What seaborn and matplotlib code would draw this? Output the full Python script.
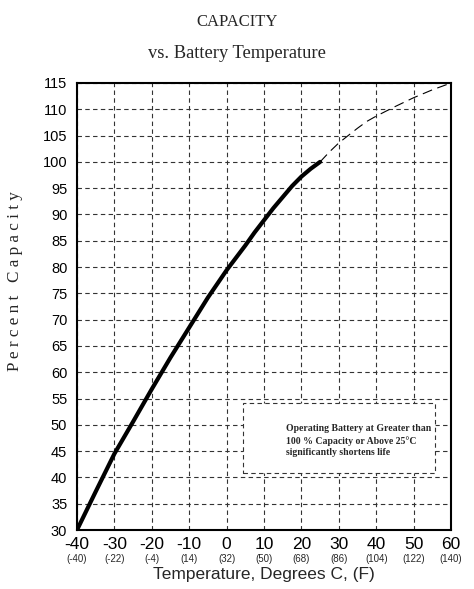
import matplotlib
matplotlib.use("Agg")
import matplotlib.pyplot as plt
import seaborn as sns
import pandas as pd
from matplotlib.patches import Rectangle

# ---- data ----
temp_solid = [-40, -35, -30, -25, -20, -15, -10, -5, 0, 5, 7.5, 10, 12.5, 15, 17.5, 20, 22.5, 25]
cap_solid = [30, 37.3, 44.5, 50.6, 56.8, 62.8, 68.5, 74.2, 79.4, 84.1, 86.6, 88.9, 91.2, 93.3, 95.4, 97.2, 98.7, 100]
temp_dashed = [25, 27.5, 30, 32.5, 35, 37.5, 40, 42.5, 45, 50, 55, 60]
cap_dashed = [100, 101.9, 103.6, 105.0, 106.4, 107.7, 108.7, 109.6, 110.5, 112.2, 113.7, 115]
x_ticks_c = [-40, -30, -20, -10, 0, 10, 20, 30, 40, 50, 60]
x_ticks_f = ["(-40)", "(-22)", "(-4)", "(14)", "(32)", "(50)", "(68)", "(86)", "(104)", "(122)", "(140)"]
y_ticks = [30, 35, 40, 45, 50, 55, 60, 65, 70, 75, 80, 85, 90, 95, 100, 105, 110, 115]
title1 = "CAPACITY"
title2 = "vs. Battery Temperature"
note_text = "Operating Battery at Greater than\n100 % Capacity or Above 25°C\nsignificantly shortens life"

sns.set_theme(style="white")
plt.rcParams['font.family'] = ['Liberation Sans', 'DejaVu Sans']

fig = plt.figure(figsize=(4.74, 5.89), dpi=100)
ax = fig.add_axes([77/474, 1-530/589, (451-77)/474, (530-83)/589])

df_s = pd.DataFrame({"t": temp_solid, "c": cap_solid})
df_d = pd.DataFrame({"t": temp_dashed, "c": cap_dashed})
sns.lineplot(data=df_s, x="t", y="c", ax=ax, color="black", linewidth=3.0, zorder=5,
             solid_joinstyle="round", solid_capstyle="round")
sns.lineplot(data=df_d, x="t", y="c", ax=ax, color="black", linewidth=0.8,
             linestyle=(0, (9, 5)), zorder=5)

ax.set_xlim(-40, 60)
ax.set_ylim(30, 115)
ax.set_xticks(x_ticks_c)
ax.set_yticks(y_ticks)
ax.set_xticklabels([str(v) for v in x_ticks_c], fontsize=12.5)
ax.set_yticklabels([str(v) for v in y_ticks], fontsize=10.5)
ax.tick_params(axis="both", length=0, colors="black")
ax.tick_params(axis="y", pad=7)
ax.tick_params(axis="x", pad=5)
ax.set_xlabel("")
ax.set_ylabel("")

ax.grid(True, color="#333333", linestyle=(0, (4, 3)), linewidth=0.8)
ax.set_axisbelow(True)
for s in ax.spines.values():
    s.set_color("black")
    s.set_linewidth(1.5)
    s.set_visible(True)

# Fahrenheit sublabels
for xc, fl in zip(x_ticks_c, x_ticks_f):
    ax.annotate(fl, xy=(xc, 0), xycoords=("data", "axes fraction"),
                xytext=(0, -21), textcoords="offset points",
                ha="center", va="center", fontsize=7)

ax.text(0.5, -45/447, "Temperature, Degrees C, (F)", transform=ax.transAxes,
        ha="center", va="center", fontsize=12.5)

# note box
rect = Rectangle((4.4, 40.9), 55.7-4.4, 54.1-40.9, facecolor="white",
                 edgecolor="#333333", linestyle=(0, (4, 3)), linewidth=0.8, zorder=3)
ax.add_patch(rect)
ax.text(16.0, 47.0, note_text, ha="left", va="center", fontsize=7,
        family=["Liberation Serif", "DejaVu Serif"], weight="bold",
        linespacing=1.4, zorder=4)

# titles
fig.text(0.5, 1-22/589, title1, ha="center", va="center", fontsize=12,
         family=["Liberation Serif", "DejaVu Serif"])
fig.text(0.5, 1-53/589, title2, ha="center", va="center", fontsize=13.3,
         family=["Liberation Serif", "DejaVu Serif"])
fig.text(15/474, 1-281/589, "P e r c e n t   C a p a c i t y", rotation=90,
         ha="center", va="center", fontsize=12.3,
         family=["Liberation Serif", "DejaVu Serif"])

fig.savefig("out.png", dpi=100, facecolor="white")
